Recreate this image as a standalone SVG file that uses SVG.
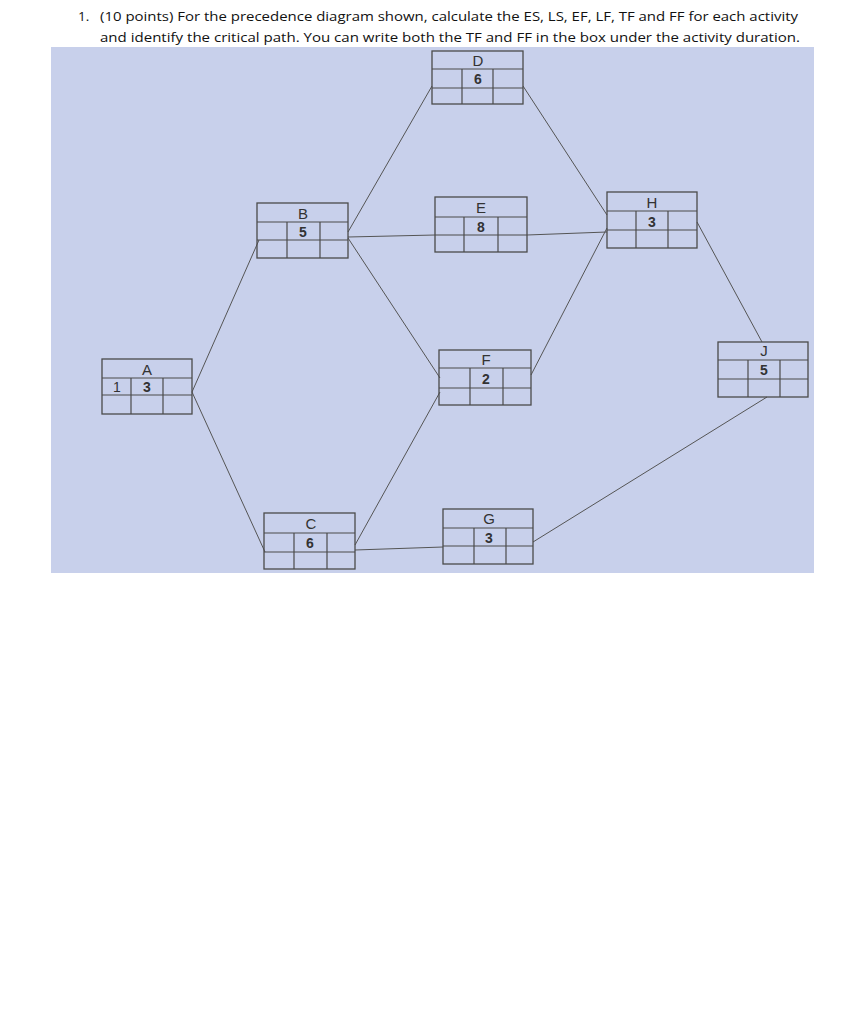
<svg xmlns="http://www.w3.org/2000/svg" width="860" height="1024" viewBox="0 0 860 1024">
<style>
.hdr{font-family:"Open Sans","Liberation Sans",sans-serif;font-size:13.5px;fill:#111}
.box{fill:none;stroke:#4a4a4a;stroke-width:1.3}
.grid{stroke:#4a4a4a;stroke-width:1.2}
.lbl{font-family:"Liberation Sans",Arial,sans-serif;font-size:15px;fill:#333;text-anchor:middle}
.num{font-family:"Liberation Sans",Arial,sans-serif;font-size:14px;fill:#333;text-anchor:middle;font-weight:bold}
.conn line{stroke:#555;stroke-width:1}
</style>
<rect width="860" height="1024" fill="#ffffff"/>
<text class="hdr" x="78" y="21">1.</text>
<text class="hdr" x="100" y="21" textLength="698" lengthAdjust="spacingAndGlyphs">(10 points) For the precedence diagram shown, calculate the ES, LS, EF, LF, TF and FF for each activity</text>
<text class="hdr" x="100" y="42" textLength="700" lengthAdjust="spacingAndGlyphs">and identify the critical path.  You can write both the TF and FF in the box under the activity duration.</text>
<rect x="51" y="47" width="763" height="526" fill="#c8d0eb"/>
<g id="connectors" class="conn">
<line x1="192" y1="392" x2="259" y2="240"/>
<line x1="192" y1="392" x2="265" y2="552"/>
<line x1="348" y1="232" x2="432" y2="86"/>
<line x1="348" y1="237" x2="435" y2="235"/>
<line x1="527" y1="235" x2="607" y2="232"/>
<line x1="348" y1="238" x2="440" y2="378"/>
<line x1="355" y1="545" x2="440" y2="392"/>
<line x1="355" y1="550" x2="443" y2="547"/>
<line x1="523" y1="86" x2="607" y2="215"/>
<line x1="531" y1="375" x2="607" y2="228"/>
<line x1="697" y1="222" x2="762" y2="342"/>
<line x1="533" y1="542" x2="767" y2="397"/>
</g>
<g id="node-A">
<rect class="box" x="102" y="359" width="90" height="55"/>
<line class="grid" x1="102" y1="378" x2="192" y2="378"/><line class="grid" x1="102" y1="395" x2="192" y2="395"/>
<line class="grid" x1="131" y1="378" x2="131" y2="414"/><line class="grid" x1="163" y1="378" x2="163" y2="414"/>
<text class="lbl" x="147" y="375">A</text><text class="num" x="117" y="392" style="font-weight:normal">1</text><text class="num" x="147" y="392">3</text>
</g>
<g id="node-B">
<rect class="box" x="257" y="203" width="91" height="55"/>
<line class="grid" x1="257" y1="222" x2="348" y2="222"/><line class="grid" x1="257" y1="240" x2="348" y2="240"/>
<line class="grid" x1="287" y1="222" x2="287" y2="258"/><line class="grid" x1="320" y1="222" x2="320" y2="258"/>
<text class="lbl" x="303" y="219">B</text><text class="num" x="303" y="237">5</text>
</g>
<g id="node-C">
<rect class="box" x="264" y="513" width="91" height="56"/>
<line class="grid" x1="264" y1="533" x2="355" y2="533"/><line class="grid" x1="264" y1="552" x2="355" y2="552"/>
<line class="grid" x1="294" y1="533" x2="294" y2="569"/><line class="grid" x1="327" y1="533" x2="327" y2="569"/>
<text class="lbl" x="311" y="529">C</text><text class="num" x="310" y="548">6</text>
</g>
<g id="node-D">
<rect class="box" x="432" y="51" width="91" height="53"/>
<line class="grid" x1="432" y1="69" x2="523" y2="69"/><line class="grid" x1="432" y1="88" x2="523" y2="88"/>
<line class="grid" x1="462" y1="69" x2="462" y2="104"/><line class="grid" x1="493" y1="69" x2="493" y2="104"/>
<text class="lbl" x="478" y="66">D</text><text class="num" x="478" y="84">6</text>
</g>
<g id="node-E">
<rect class="box" x="435" y="197" width="92" height="55"/>
<line class="grid" x1="435" y1="217" x2="527" y2="217"/><line class="grid" x1="435" y1="235" x2="527" y2="235"/>
<line class="grid" x1="464" y1="217" x2="464" y2="252"/><line class="grid" x1="498" y1="217" x2="498" y2="252"/>
<text class="lbl" x="481" y="213">E</text><text class="num" x="481" y="232">8</text>
</g>
<g id="node-F">
<rect class="box" x="439" y="350" width="92" height="55"/>
<line class="grid" x1="439" y1="368" x2="531" y2="368"/><line class="grid" x1="439" y1="388" x2="531" y2="388"/>
<line class="grid" x1="470" y1="368" x2="470" y2="405"/><line class="grid" x1="503" y1="368" x2="503" y2="405"/>
<text class="lbl" x="486" y="365">F</text><text class="num" x="486" y="384">2</text>
</g>
<g id="node-G">
<rect class="box" x="443" y="509" width="90" height="55"/>
<line class="grid" x1="443" y1="528" x2="533" y2="528"/><line class="grid" x1="443" y1="546" x2="533" y2="546"/>
<line class="grid" x1="474" y1="528" x2="474" y2="564"/><line class="grid" x1="506" y1="528" x2="506" y2="564"/>
<text class="lbl" x="489" y="524">G</text><text class="num" x="489" y="543">3</text>
</g>
<g id="node-H">
<rect class="box" x="607" y="192" width="90" height="56"/>
<line class="grid" x1="607" y1="211" x2="697" y2="211"/><line class="grid" x1="607" y1="230" x2="697" y2="230"/>
<line class="grid" x1="636" y1="211" x2="636" y2="248"/><line class="grid" x1="668" y1="211" x2="668" y2="248"/>
<text class="lbl" x="652" y="208">H</text><text class="num" x="652" y="227">3</text>
</g>
<g id="node-J">
<rect class="box" x="718" y="342" width="90" height="55"/>
<line class="grid" x1="718" y1="360" x2="808" y2="360"/><line class="grid" x1="718" y1="379" x2="808" y2="379"/>
<line class="grid" x1="748" y1="360" x2="748" y2="397"/><line class="grid" x1="780" y1="360" x2="780" y2="397"/>
<text class="lbl" x="764" y="356">J</text><text class="num" x="764" y="375">5</text>
</g>
</svg>
